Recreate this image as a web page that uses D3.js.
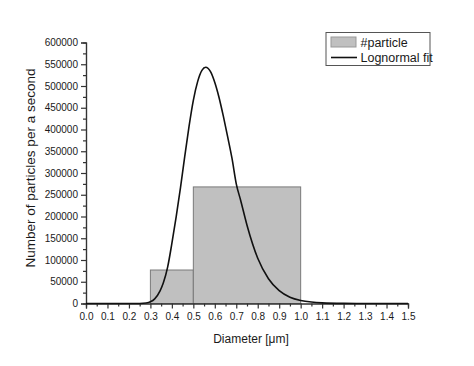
<!DOCTYPE html>
<html lang="en">
<head>
<meta charset="utf-8">
<title>Particle size distribution</title>
<style>
body{
  margin: 0;
  background: #fff;
}
.axis text{
  font: 10px "Liberation Sans", Arial, sans-serif;
  fill: #1a1a1a;
}
.axis path, .axis line{
  fill: none;
  stroke: #333;
  stroke-width: 1.2px;
}
.label{
  font: 12px "Liberation Sans", Arial, sans-serif;
  fill: #1a1a1a;
}
</style>
</head>
<body>
<div id="chart"></div>
<script src="https://d3js.org/d3.v7.min.js"></script>
<script>

const width = 474;
const height = 366;

// histogram bins (diameter in um)
const binStart = [0.3, 0.5];
const binEnd = [0.5, 1.0];
const binCount = [77000, 268000];

// lognormal fit, points
const fitX = [0.00, 0.20, 0.25, 0.28, 0.30, 0.32, 0.345, 0.36, 0.38, 0.40, 0.42, 0.44, 0.46, 0.48, 0.50, 0.52, 0.54, 0.5575, 0.58, 0.60, 0.62, 0.64, 0.66, 0.68, 0.70, 0.72, 0.75, 0.80, 0.85, 0.90, 0.95, 1.00, 1.05, 1.10, 1.20, 1.30, 1.50];
const fitY = [0, 0, 150, 1300, 4000, 10700, 29000, 47000, 83000, 138000, 199000, 266000, 338000, 407000, 467000, 510000, 536000, 543000, 533000, 508000, 473000, 430000, 383000, 334000, 275000, 238000, 180000, 104000, 57000, 29500, 14500, 7000, 3300, 1500, 300, 0, 0];

const xTicks = [0, 0.1, 0.2, 0.3, 0.4, 0.5, 0.6, 0.7, 0.8, 0.9, 1.0, 1.1, 1.2, 1.3, 1.4, 1.5];
const yTicks = [0, 50000, 100000, 150000, 200000, 250000, 300000, 350000, 400000, 450000, 500000, 550000, 600000];

const svg = d3.select('#chart')
  .append('svg')
  .attr('width', width)
  .attr('height', height);

const x = d3.scaleLinear().domain([0, 1.5]).range([86, 408]);
const y = d3.scaleLinear().domain([0, 600000]).range([303.5, 42.5]);

// bars
svg.append('g')
  .selectAll('rect')
  .data(binCount)
  .join('rect')
  .attr('x', (d, i) => x(binStart[i]))
  .attr('width', (d, i) => x(binEnd[i]) - x(binStart[i]))
  .attr('y', d => y(d))
  .attr('height', d => y(0) - y(d))
  .style('fill', '#c0c0c0')
  .style('stroke', '#7a7a7a')
  .style('stroke-width', 1);

// minor ticks
const xMinor = xTicks.slice(0, -1).map(v => v + 0.05);
const yMinor = yTicks.slice(0, -1).map(v => v + 25000);

svg.append('g')
  .attr('class', 'axis')
  .attr('transform', 'translate(0,' + y(0) + ')')
  .call(d3.axisBottom(x).tickValues(xMinor).tickSize(3).tickFormat(''));

svg.append('g')
  .attr('class', 'axis')
  .attr('transform', 'translate(' + x(0) + ',0)')
  .call(d3.axisLeft(y).tickValues(yMinor).tickSize(3).tickFormat(''));

// major ticks
svg.append('g')
  .attr('class', 'axis')
  .attr('transform', 'translate(0,' + y(0) + ')')
  .call(d3.axisBottom(x).tickValues(xTicks).tickSize(5).tickPadding(4)
    .tickFormat(d3.format('.1f')));

svg.append('g')
  .attr('class', 'axis')
  .attr('transform', 'translate(' + x(0) + ',0)')
  .call(d3.axisLeft(y).tickValues(yTicks).tickSize(5).tickPadding(3)
    .tickFormat(d3.format('d')));

// fit curve
const line = d3.line()
  .x(d => x(d[0]))
  .y(d => y(d[1]))
  .curve(d3.curveMonotoneX);

svg.append('path')
  .datum(fitX.map((v, i) => [v, fitY[i]]))
  .attr('d', line)
  .style('fill', 'none')
  .style('stroke', '#111')
  .style('stroke-width', 1.6);

// axis titles
svg.append('text')
  .attr('class', 'label')
  .attr('x', 251)
  .attr('y', 343)
  .attr('text-anchor', 'middle')
  .text('Diameter [\u03bcm]');

svg.append('text')
  .attr('class', 'label')
  .attr('transform', 'translate(35,168) rotate(-90)')
  .attr('text-anchor', 'middle')
  .style('font-size', '13.5px')
  .text('Number of particles per a second');

// legend
const legend = svg.append('g');
legend.append('rect')
  .attr('x', 326).attr('y', 32.5)
  .attr('width', 104).attr('height', 33)
  .style('fill', '#fff')
  .style('stroke', '#555')
  .style('stroke-width', 1);
legend.append('rect')
  .attr('x', 331).attr('y', 37)
  .attr('width', 25).attr('height', 10)
  .style('fill', '#c0c0c0')
  .style('stroke', '#999');
legend.append('text')
  .attr('class', 'label')
  .attr('x', 360.5).attr('y', 46.5)
  .style('font-size', '12.5px')
  .text('#particle');
legend.append('line')
  .attr('x1', 331).attr('x2', 357)
  .attr('y1', 57.5).attr('y2', 57.5)
  .style('stroke', '#111')
  .style('stroke-width', 1.6);
legend.append('text')
  .attr('class', 'label')
  .attr('x', 360.5).attr('y', 61.5)
  .style('font-size', '12.5px')
  .text('Lognormal fit');

</script>
</body>
</html>
